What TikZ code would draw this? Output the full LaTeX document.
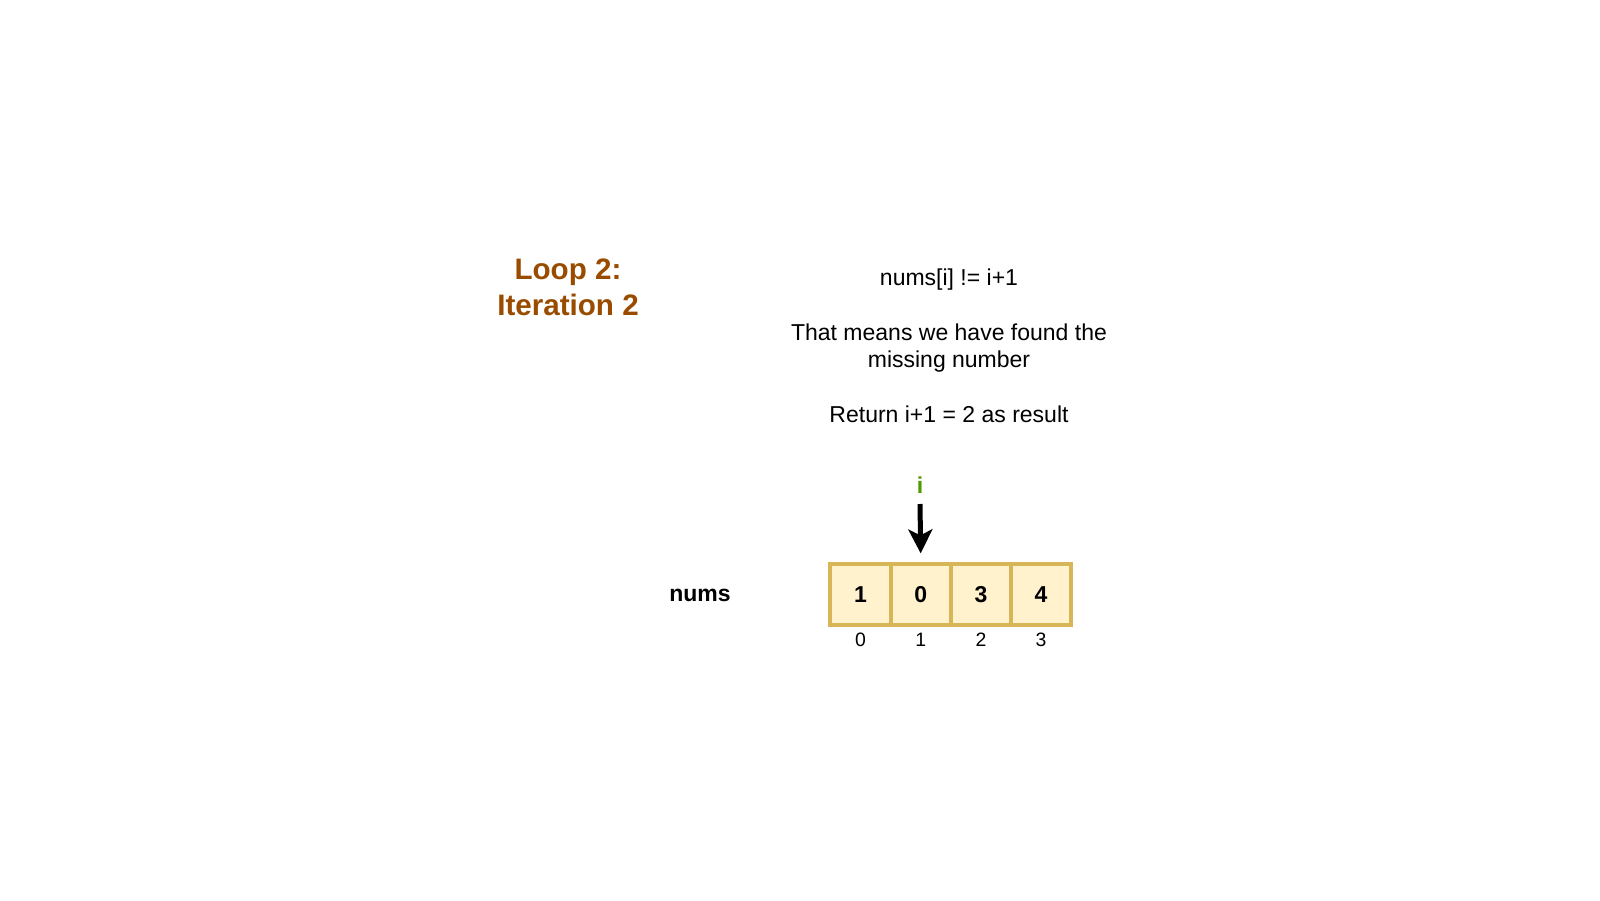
\documentclass[tikz,border=0pt]{standalone}
\usepackage{fontspec}
\setmainfont{Liberation Sans}
\usepackage{tikz}
\usetikzlibrary{arrows.meta}
\definecolor{titlebrown}{HTML}{994C00}
\definecolor{cellfill}{HTML}{FFF2CC}
\definecolor{celldraw}{HTML}{D6B656}
\definecolor{ptrgreen}{HTML}{4D9900}
\tikzstyle{cell}=[rectangle, draw=celldraw, fill=cellfill, line width=4pt, minimum size=60.2pt, inner sep=0pt, font=\fontsize{23}{27.5}\selectfont\bfseries]
\tikzstyle{idx}=[inner sep=0pt, font=\fontsize{19.4}{23}\selectfont]
\tikzstyle{ptr}=[line width=5pt, -{Stealth[length=24pt, width=24pt, inset=6pt]}]

\begin{document}
\begin{tikzpicture}[x=1pt, y=-1pt]
    \useasboundingbox (0,0) rectangle (1600,900);
    \node[text=titlebrown, align=center, font=\fontsize{29.6}{36}\selectfont\bfseries] (title) at (568,287) {Loop 2:\\Iteration 2};
    \node[align=center, font=\fontsize{23}{27.5}\selectfont] (info) at (949,346) {nums[i] != i+1\\[27.5pt]That means we have found the\\missing number\\[27.5pt]Return i+1 = 2 as result};
    \node[font=\fontsize{23}{27.5}\selectfont\bfseries] (name) at (700,595.5) {nums};
    \foreach \v [count = \x] in {1,0,3,4}{
      \node[cell] (c\x) at ({800.3+60.2*\x},594.5) {\v};
      \pgfmathtruncatemacro{\k}{\x-1}
      \node[idx] (i\x) at ({800.3+60.2*\x},640) {\k};
    }
    \node[text=ptrgreen, font=\fontsize{23}{27.5}\selectfont\bfseries] (lbl) at (920,485) {i};
    \coordinate (ptrtop) at (920,504);
    \draw[ptr] (ptrtop) -- ([yshift=9pt]c2.north);
  \end{tikzpicture}
\end{document}
